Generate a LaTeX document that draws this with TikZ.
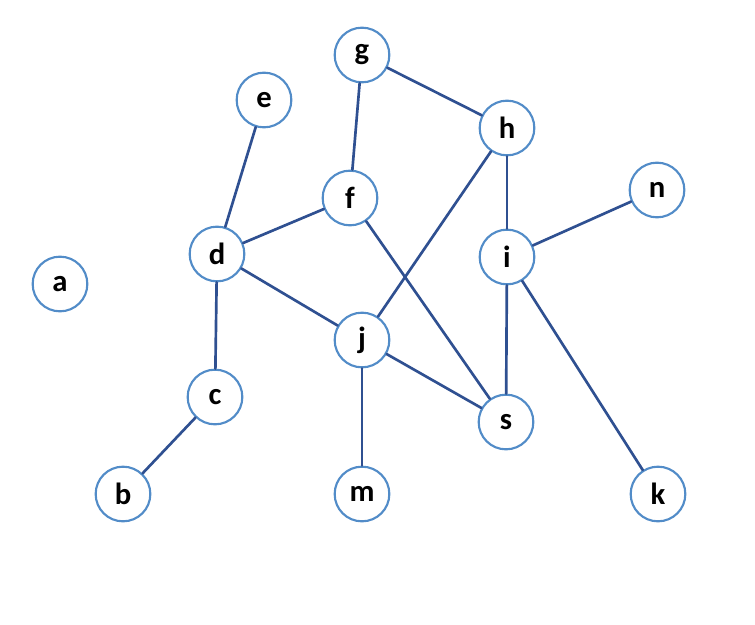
\documentclass[tikz,border=0pt]{standalone}
\usepackage{fontspec}
\setmainfont{Carlito}
\begin{document}
\begin{tikzpicture}[x=0.75pt,y=-0.75pt,
  vtx/.style={circle,draw={rgb,255:red,82;green,140;blue,200},fill=white,line width=1.6pt,minimum size=41pt,inner sep=0pt,font=\fontsize{23}{26}\selectfont\bfseries},
  edge/.style={draw={rgb,255:red,47;green,80;blue,145},line width=2pt,line cap=round}]
\useasboundingbox (0,0) rectangle (755,624);
\node[vtx] (a) at (60,284) {a};
\node[vtx] (b) at (123,494) {b};
\node[vtx] (c) at (215,397) {c};
\node[vtx] (d) at (217,254) {d};
\node[vtx] (e) at (264,100) {e};
\node[vtx] (f) at (350,198) {f};
\node[vtx] (g) at (362,55) {g};
\node[vtx] (h) at (507,128) {h};
\node[vtx] (i) at (507,257) {i};
\node[vtx] (j) at (362,340) {j};
\node[vtx] (m) at (362,494) {m};
\node[vtx] (k) at (658,494) {k};
\node[vtx] (n) at (657,190) {n};
\node[vtx] (s) at (506,422) {s};
\foreach \u/\v in {e/d,g/f,g/h,h/i,h/j,d/f,d/j,d/c,c/b,f/s,i/n,i/s,i/k,j/s,j/m}
  \path[edge] (\u) -- (\v);
\end{tikzpicture}
\end{document}
